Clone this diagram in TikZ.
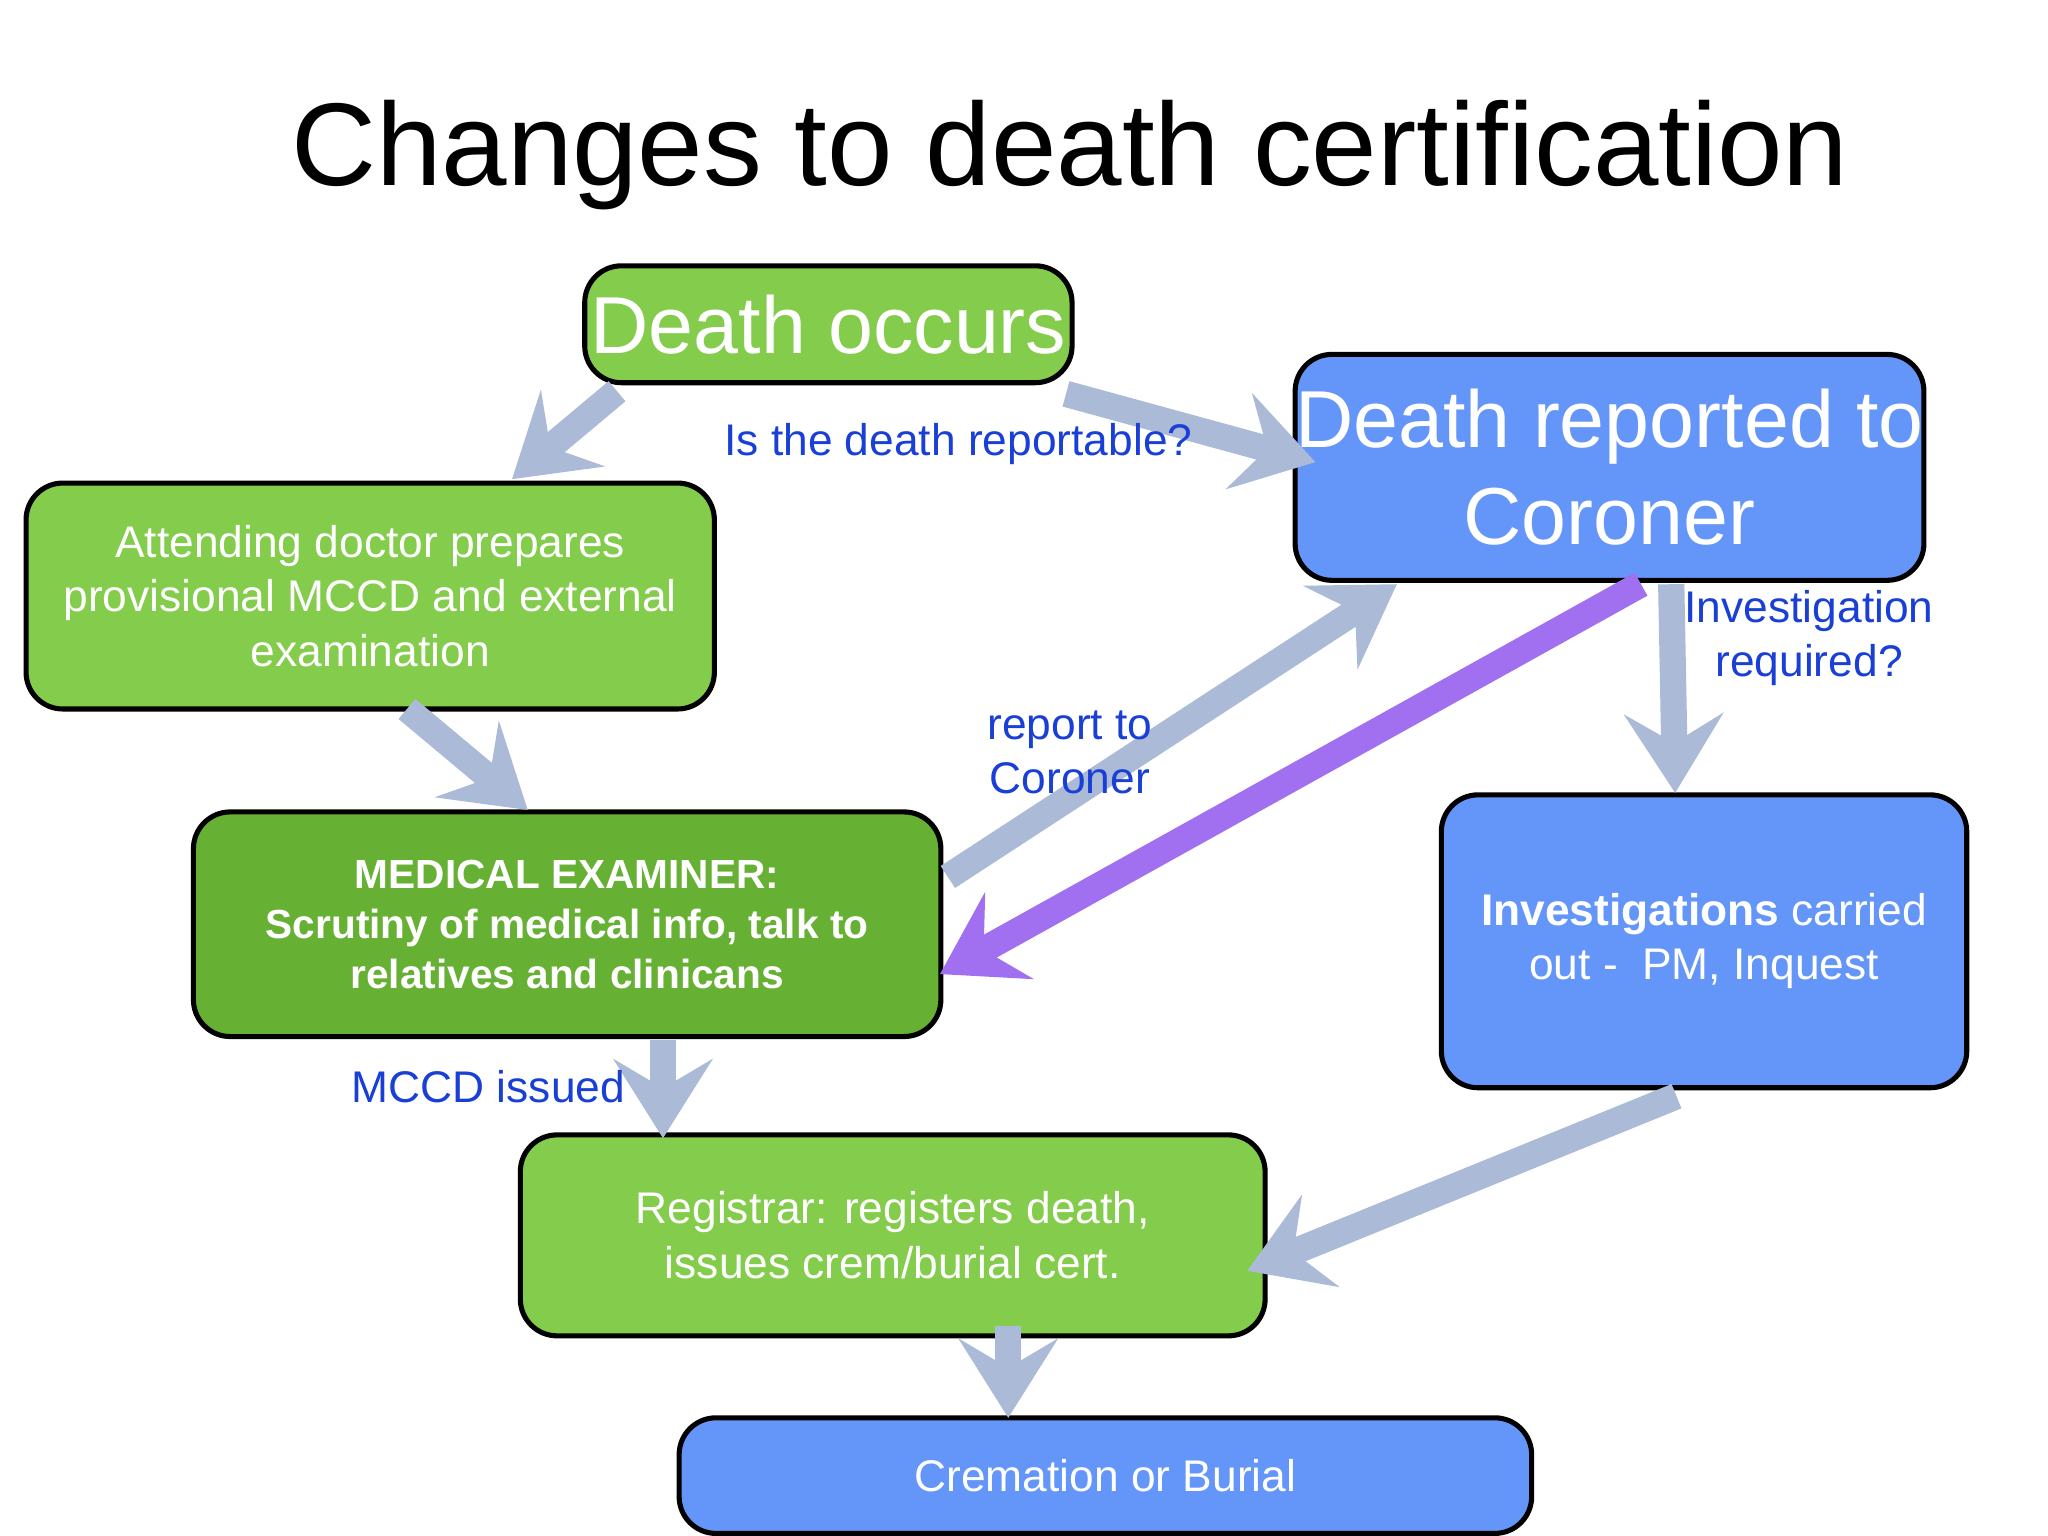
\documentclass[tikz,border=0pt]{standalone}
\usepackage{fontspec}
\setmainfont{Liberation Sans}
\usetikzlibrary{arrows.meta}
\definecolor{lg}{HTML}{84CC4B}
\definecolor{dg}{HTML}{66B033}
\definecolor{bl}{HTML}{6495F8}
\definecolor{ar}{HTML}{ABBAD6}
\definecolor{pu}{HTML}{A070F0}
\definecolor{lb}{HTML}{1A3FD6}
\begin{document}
\begin{tikzpicture}[x=0.01cm,y=-0.01cm,
 box/.style={draw=black,line width=1.1pt,rounded corners=0.28cm,inner sep=0pt,align=center,text=white},
 big/.style={font=\fontsize{17.5}{21}\selectfont},
 txt/.style={font=\fontsize{9.6}{11.8}\selectfont},
 fat/.style={ar,line width=0.2cm,-{Stealth[width=0.75cm,length=0.6cm,inset=0.22cm]}},
 lab/.style={text=lb,font=\fontsize{9.6}{11.8}\selectfont,align=center}]
\useasboundingbox (0,0) rectangle (1560,1170);
\node[font=\fontsize{25.5}{30}\selectfont] (title) at (815,118) {Changes to death certification};
\node[box,fill=lg,big,minimum width=3.71cm,minimum height=0.89cm] (occ) at (631,247) {Death occurs};
\node[box,fill=bl,big,minimum width=4.44cm,minimum height=1.72cm] (cor) at (1226,356) {Death reported to\\Coroner};
\node[box,fill=lg,txt,minimum width=5.24cm,minimum height=1.72cm] (att) at (282,454) {Attending doctor prepares\\provisional MCCD and external\\examination};
\node[box,fill=dg,minimum width=5.69cm,minimum height=1.71cm,font=\fontsize{8.8}{10.8}\selectfont\bfseries] (me) at (432,704) {MEDICAL EXAMINER:\\Scrutiny of medical info, talk to\\relatives and clinicans};
\node[box,fill=bl,txt,minimum width=4.0cm,minimum height=2.23cm] (inv) at (1298,717) {\textbf{Investigations} carried\\out -\ \ PM, Inquest};
\node[box,fill=lg,txt,minimum width=5.67cm,minimum height=1.53cm] (reg) at (680,941) {Registrar: registers death,\\issues crem/burial cert.};
\node[box,fill=bl,txt,minimum width=6.49cm,minimum height=0.88cm] (cb) at (842,1124) {Cremation or Burial};
\coordinate (a1s) at (470,298); \coordinate (a1e) at (390,365);
\coordinate (a2s) at (812,300); \coordinate (a2e) at (1002,352);
\coordinate (a3s) at (310,540); \coordinate (a3e) at (402,617);
\coordinate (a4s) at (722,668); \coordinate (a4e) at (1064,445);
\coordinate (a5s) at (1250,445); \coordinate (a5e) at (716,742);
\coordinate (a6s) at (1273,445); \coordinate (a6e) at (1276,604);
\coordinate (a7s) at (505,792); \coordinate (a7e) at (505,867);
\coordinate (a8s) at (1277,835); \coordinate (a8e) at (950,968);
\coordinate (a9s) at (768,1010); \coordinate (a9e) at (768,1080);
\draw[fat] (a1s) -- (a1e);
\draw[fat] (a2s) -- (a2e);
\draw[fat] (a3s) -- (a3e);
\draw[fat] (a4s) -- (a4e);
\draw[fat,pu] (a5s) -- (a5e);
\draw[fat] (a6s) -- (a6e);
\draw[fat] (a7s) -- (a7e);
\draw[fat] (a8s) -- (a8e);
\draw[fat] (a9s) -- (a9e);
\node[lab] (l1) at (730,338) {Is the death reportable?};
\node[lab] (l2) at (815,573) {report to\\Coroner};
\node[lab] (l3) at (1378,486) {Investigation\\required?};
\node[lab] (l4) at (372,828) {MCCD issued};
\end{tikzpicture}
\end{document}
